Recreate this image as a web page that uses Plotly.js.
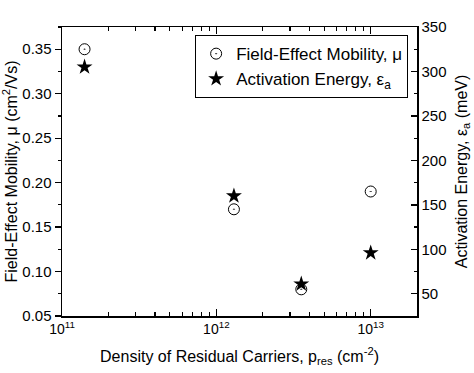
<!DOCTYPE html>
<html><head><meta charset="utf-8">
<script src="https://cdn.plot.ly/plotly-3.0.1.min.js"></script>
<style>body{margin:0;background:#fff}#c{width:474px;height:373px}</style>
</head><body><div id="c"></div>
<script>
const density = [1.4e11, 1.3e12, 3.55e12, 1.0e13];
const mobility = [0.35, 0.17, 0.08, 0.19];
const activationEnergy = [305, 160, 61, 96];
const xTickVals = [1e11, 1e12, 1e13];
const xTickText = ['10<sup>11</sup>', '10<sup>12</sup>', '10<sup>13</sup>'];
const muTicks = [0.05, 0.10, 0.15, 0.20, 0.25, 0.30, 0.35];
const eTicks = [50, 100, 150, 200, 250, 300, 350];
const minorMultipliers = [2, 3, 4, 5, 6, 7, 8, 9];

const xMinor = [];
xTickVals.forEach(d => minorMultipliers.forEach(m => xMinor.push(d * m)));

const F = 'Liberation Sans, Arial, sans-serif';
const traces = [
  {x: density, y: mobility, type: 'scatter', mode: 'markers', name: 'Field-Effect Mobility, μ',
   marker: {symbol: 'circle-open-dot', size: 11, color: '#000', line: {width: 1, color: '#000'}}},
  {x: density, y: activationEnergy, type: 'scatter', mode: 'markers', name: 'Activation Energy, ε<sub>a</sub>',
   yaxis: 'y2', marker: {symbol: 'star', size: 12, color: '#000'}}
];
const layout = {
  width: 474, height: 373,
  margin: {l: 62, r: 57, t: 27, b: 57},
  paper_bgcolor: '#fff', plot_bgcolor: '#fff',
  font: {family: F, size: 15, color: '#000'},
  showlegend: true,
  legend: {x: 0.375, y: 0.972, xanchor: 'left', yanchor: 'top', bgcolor: '#fff',
           bordercolor: '#000', borderwidth: 1, font: {size: 17, family: F}, itemwidth: 30,
           tracegroupgap: 0},
  xaxis: {type: 'log', range: [11, 13.3], tickvals: xTickVals, ticktext: xTickText,
          ticks: 'inside', ticklen: 7, tickwidth: 1.3, tickcolor: '#000',
          showline: true, linewidth: 1.5, linecolor: '#000',
          mirror: 'ticks', showgrid: false, zeroline: false,
          minor: {tickvals: xMinor, ticks: 'inside', ticklen: 4, tickwidth: 1.2, tickcolor: '#000', showgrid: false},
          tickfont: {size: 14},
          title: {text: 'Density of Residual Carriers, p<sub>res</sub> (cm<sup>-2</sup>)', font: {size: 16}, standoff: 14}},
  yaxis: {range: [0.05, 0.375], tickvals: muTicks, tickformat: '.2f',
          ticks: 'outside', ticklen: 6, tickwidth: 1.3, tickcolor: '#000',
          showline: true, linewidth: 1.5, linecolor: '#000',
          showgrid: false, zeroline: false,
          minor: {dtick: 0.025, ticks: 'outside', ticklen: 3, tickwidth: 1.2, tickcolor: '#000', showgrid: false},
          tickfont: {size: 15},
          title: {text: 'Field-Effect Mobility, μ (cm<sup>2</sup>/Vs)', font: {size: 16}, standoff: 1}},
  yaxis2: {range: [25, 350], tickvals: eTicks, overlaying: 'y', side: 'right',
           ticks: 'inside', ticklen: 6, tickwidth: 1.3, tickcolor: '#000',
           showline: true, linewidth: 1.5, linecolor: '#000',
           showgrid: false, zeroline: false,
           minor: {dtick: 25, ticks: 'inside', ticklen: 3, tickwidth: 1.2, tickcolor: '#000', showgrid: false},
           tickfont: {size: 15},
           title: {text: 'Activation Energy, ε<sub>a</sub> (meV)', font: {size: 16}, standoff: 10}}
};
Plotly.newPlot('c', traces, layout, {displayModeBar: false, staticPlot: true});
</script></body></html>
